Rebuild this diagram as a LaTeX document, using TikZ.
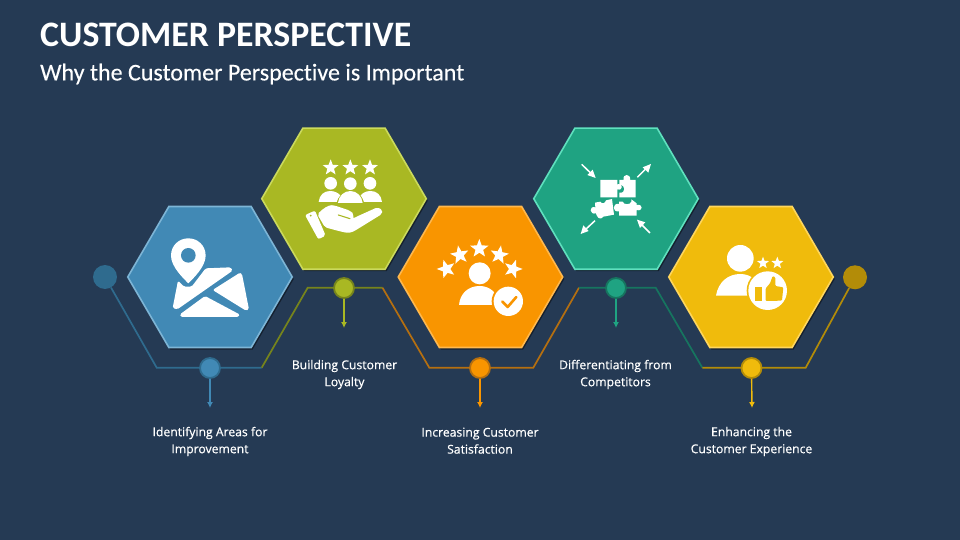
\documentclass[tikz,border=0pt]{standalone}
\usepackage{fontspec}
\setmainfont[Ligatures=NoCommon]{Carlito}
\newfontfamily\subfont[Ligatures=NoCommon,FakeBold=0.25]{Carlito}
\newfontfamily\labfont[FakeBold=0.5]{Open Sans}
\usetikzlibrary{shapes.geometric,shadows,arrows.meta}
\definecolor{bgc}{HTML}{253A54}
\definecolor{cA}{HTML}{4189B5}\definecolor{eA}{HTML}{7DB5D6}\definecolor{lA}{HTML}{2F6B8E}
\definecolor{cB}{HTML}{A9B823}\definecolor{eB}{HTML}{CBDA5C}\definecolor{lB}{HTML}{76841C}
\definecolor{cC}{HTML}{F99500}\definecolor{eC}{HTML}{FFB84D}\definecolor{lC}{HTML}{B56F10}
\definecolor{cD}{HTML}{1FA382}\definecolor{eD}{HTML}{5FE0BE}\definecolor{lD}{HTML}{16755F}
\definecolor{cE}{HTML}{F0BB0C}\definecolor{eE}{HTML}{FFD65C}\definecolor{lE}{HTML}{B38C08}
\tikzset{
  hexbox/.style={regular polygon,regular polygon sides=6,shape border rotate=0,minimum size=164.5pt,inner sep=0pt,line width=1.6pt,
    transform shape,yscale=.99,
    drop shadow={shadow xshift=1.5pt,shadow yshift=-2pt,opacity=.45,fill=black}},
  dotbox/.style={circle,minimum size=20pt,inner sep=0pt,line width=1.8pt},
  endbox/.style={circle,minimum size=24pt,inner sep=0pt},
  link/.style={line width=1.7pt,line join=miter},
  drop/.style={line width=1.4pt,-{Latex[length=6pt,width=6pt]}},
  lab/.style={align=center,text=white,font=\labfont\fontsize{12.2}{17}\selectfont},
}
\newcommand\rstar[4]{\begin{scope}[shift={(#1,#2)},scale=#3,rotate=#4]
\fill[white] (-90:1)--(-54:.42)--(-18:1)--(18:.42)--(54:1)--(90:.42)--(126:1)--(162:.42)--(198:1)--(234:.42)--cycle;
\end{scope}}
\newcommand\cstar[3]{\rstar{#1}{#2}{#3}{0}}
\begin{document}
\begin{tikzpicture}[x=1pt,y=-1pt]
\useasboundingbox (0,0) rectangle (960,540);
\fill[bgc] (0,0) rectangle (960,540);
\node[anchor=west,text=white,inner sep=0pt,font=\bfseries\fontsize{35.8}{40}\selectfont] (title) at (40,35) {CUSTOMER PERSPECTIVE};
\node[anchor=west,text=white,inner sep=0pt,font=\subfont\fontsize{24}{28}\selectfont] (sub) at (40,74) {Why the Customer Perspective is Important};

% connectors
\coordinate (b1) at (156.7,367.7); \coordinate (j1) at (261.7,367.7);
\coordinate (b2) at (307.7,287.7); \coordinate (j2) at (382.5,287.7);
\coordinate (b3) at (429.3,367.7); \coordinate (j3) at (533.3,367.7);
\coordinate (b4) at (579,287.7);   \coordinate (j4) at (655.7,287.7);
\coordinate (b5) at (702.3,367.7); \coordinate (b6) at (805.7,367.7);
\node[endbox,fill=lA] (s) at (105,277) {};
\node[endbox,fill=lE] (e) at (855,277.3) {};
\draw[link,lA] (s) -- (b1) -- (j1);
\draw[link,lB] (j1) -- (b2) -- (j2);
\draw[link,lC] (j2) -- (b3) -- (j3) -- (b4);
\draw[link,lD] (b4) -- (j4) -- (b5);
\draw[link,lE] (b5) -- (b6) -- (e);

% hexagons
\node[hexbox,fill=cA,draw=eA] (h1) at (210,277) {};
\node[hexbox,fill=cB,draw=eB] (h2) at (344,198.7) {};
\node[hexbox,fill=cC,draw=eC] (h3) at (480.5,277) {};
\node[hexbox,fill=cD,draw=eD] (h4) at (616,198.7) {};
\node[hexbox,fill=cE,draw=eE] (h5) at (751,277) {};

% dots and drops
\coordinate (a1) at (210,408); \coordinate (a2) at (344,328); \coordinate (a3) at (480,408);
\coordinate (a4) at (616,328); \coordinate (a5) at (752,408);
\draw[drop,cA] (210,368) -- (a1);
\draw[drop,cB] (344,288) -- (a2);
\draw[drop,cC] (480,368) -- (a3);
\draw[drop,cD] (616,288) -- (a4);
\draw[drop,cE] (751.5,368) -- (a5);
\node[dotbox,fill=cA,draw=lA] (d1) at (210,368) {};
\node[dotbox,fill=cB,draw=lB] (d2) at (344,288) {};
\node[dotbox,fill=cC,draw=lC] (d3) at (480,368) {};
\node[dotbox,fill=cD,draw=lD] (d4) at (616,288) {};
\node[dotbox,fill=cE,draw=lE] (d5) at (751.5,368) {};

% labels
\node[lab] (t1) at (210,441.5) {Identifying Areas for\\Improvement};
\node[lab] (t2) at (344.5,374.5) {Building Customer\\Loyalty};
\node[lab] (t3) at (480,440.7) {Increasing Customer\\Satisfaction};
\node[lab] (t4) at (615.5,374.5) {Differentiating from\\Competitors};
\node[lab] (t5) at (751.5,441.5) {Enhancing the\\Customer Experience};

% icon 1: map
\begin{scope}[shift={(90,190)},scale=.3333]
\fill[white] (295,280) .. controls (280,265) and (243,230) .. (243,197) .. controls (243,165) and (268,145) .. (295,145) .. controls (322,145) and (347,165) .. (347,197) .. controls (347,230) and (310,265) .. (295,280) -- cycle;
\fill[cA] (295,196) circle (22);
\fill[white,rounded corners=1.5pt] (264,272) -- (282,290) -- (305,290) -- (347,235) -- (422,232) -- (428,242) -- (262,358) -- (248,354) -- cycle;
\fill[white,rounded corners=1.5pt] (368,300) -- (450,248) -- (456,252) -- (477,358) -- (468,362) -- cycle;
\fill[white,rounded corners=1.5pt] (345,318) -- (450,374) -- (445,381) -- (272,381) -- (270,373) -- cycle;
\end{scope}

% icon 2: hand with people
\begin{scope}[shift={(260,120)},scale=.3333]
\cstar{212}{143}{25}\cstar{271}{143}{25}\cstar{330}{143}{25}
\fill[white] (212,190) circle (19) (271,191) circle (19) (330,190) circle (19);
\fill[white] (176,246) .. controls (178,225) and (192,213) .. (210,213) .. controls (225,213) and (236,220) .. (241,226) .. controls (236,232) and (232,238) .. (230,246) -- cycle;
\fill[white] (312,246) .. controls (310,238) and (306,232) .. (302,226) .. controls (308,219) and (318,213) .. (332,213) .. controls (350,213) and (364,225) .. (366,246) -- cycle;
\fill[white] (234,249) .. controls (236,228) and (252,213) .. (271,213) .. controls (290,213) and (306,228) .. (308,249) -- cycle;
\fill[white,rounded corners=2pt] (135,285) -- (165,272) -- (197,347) -- (175,358) -- cycle;
\fill[white,rounded corners=2pt] (172,283) .. controls (190,265) and (205,255) .. (222,256) -- (270,272) -- (282,283) -- (278,296) -- (290,290) -- (352,262) -- (368,270) -- (366,282) -- (285,332) .. controls (265,342) and (255,338) .. (195,322) -- cycle;
\draw[cB,line width=1.1pt,line cap=round] (235,285) -- (270,296);
\fill[cB] (152,287) circle (3);
\end{scope}

% icon 3: person with stars
\begin{scope}[shift={(400,200)},scale=.3333]
\rstar{139}{207}{29}{18}\rstar{179}{165}{29}{10}\cstar{238}{146}{29}\rstar{298}{165}{29}{-10}\rstar{339}{207}{29}{-18}
\fill[white] (239,220) circle (33);
\fill[white] (177,315) .. controls (180,280) and (205,258) .. (239,258) .. controls (270,258) and (295,280) .. (300,315) -- cycle;
\fill[cC] (325,304) circle (50);
\fill[white] (325,304) circle (44);
\draw[cC,line width=2.6pt,line cap=round,line join=round] (307,305) -- (323,321) -- (349,291);
\end{scope}

% icon 4: puzzle
\begin{scope}[shift={(530,120)},scale=.3333]
\draw[white,line width=1.5pt] (155,133) -- (186,163);
\fill[white] (197,174) -- (172,165) -- (188,149) -- cycle;
\draw[white,line width=1.5pt] (322,172) -- (350,144);
\fill[white] (363,132) -- (355,158) -- (338,142) -- cycle;
\draw[white,line width=1.5pt] (195,302) -- (165,330);
\fill[white] (152,342) -- (160,316) -- (176,333) -- cycle;
\draw[white,line width=1.5pt] (360,339) -- (332,311);
\fill[white] (321,299) -- (346,307) -- (330,324) -- cycle;
% pieces
\fill[white] (211,180) -- (262,180) -- (262,193) .. controls (280,188) and (280,214) .. (262,208) -- (262,232) -- (211,232) -- cycle;
\fill[white] (268,180) -- (281,180) .. controls (276,160) and (304,160) .. (300,180) -- (317,180) -- (317,232) -- (268,232) -- (268,218) .. controls (288,222) and (288,192) .. (268,196) -- cycle;
\fill[white] (195,248) -- (211,245) .. controls (215,252) and (225,252) .. (228,241) -- (246,237) -- (252,284) -- (220,290) .. controls (215,298) and (205,298) .. (200,286) -- (198,280) .. controls (178,286) and (176,256) .. (196,262) -- cycle;
\fill[white] (267,245) -- (278,245) .. controls (280,255) and (302,255) .. (304,245) -- (304,238) -- (320,250) -- (320,255) .. controls (340,250) and (340,276) .. (320,270) -- (320,287) -- (267,287) -- (267,274) .. controls (246,278) and (246,248) .. (267,252) -- cycle;
\end{scope}

% icon 5: person thumbs up
\begin{scope}[shift={(660,200)},scale=.3333]
\fill[white] (241,175) circle (40);
\fill[white] (168,287) .. controls (175,245) and (205,222) .. (241,222) .. controls (275,222) and (300,245) .. (308,287) -- cycle;
\fill[cE] (323,272) circle (63);
\fill[white] (323,272) circle (58);
\cstar{309}{189}{19}\cstar{352}{189}{19}
\fill[cE] (285,262) rectangle (307,303);
\fill[cE,rounded corners=1pt] (317,265) -- (330,250) -- (338,228) -- (346,232) -- (346,258) -- (370,262) -- (366,302) -- (317,303) -- cycle;
\end{scope}
\end{tikzpicture}
\end{document}
